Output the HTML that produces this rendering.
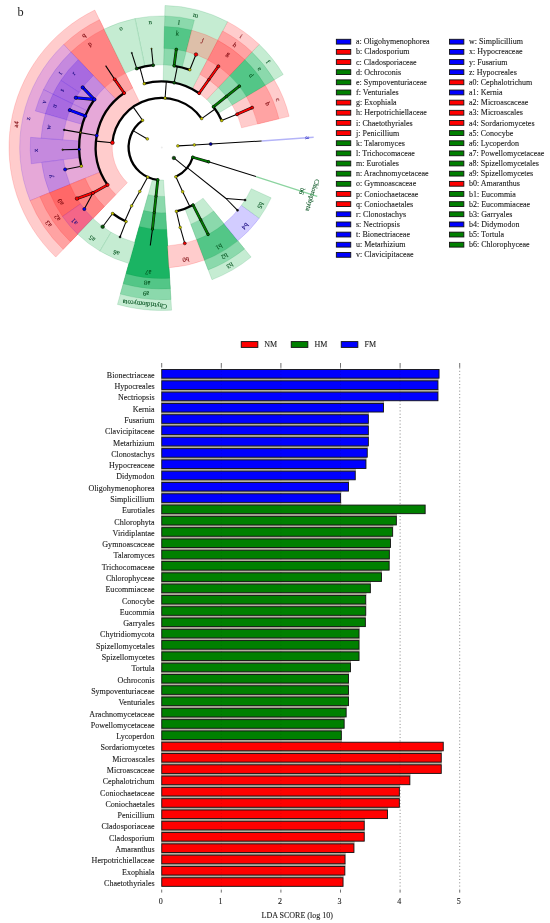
<!DOCTYPE html>
<html lang="en">
<head>
<meta charset="utf-8">
<title>LEfSe cladogram and LDA scores</title>
<style>
html,body{margin:0;padding:0;background:#fff;}
body{width:550px;height:923px;overflow:hidden;}
svg{display:block;}
svg text{font-family:'Liberation Serif','Times New Roman',serif;}
</style>
</head>
<body>
<svg width="550" height="923" viewBox="0 0 550 923" fill="#1a1a1a">
<rect x="0" y="0" width="550" height="923" fill="#ffffff"/>
<text x="17.6" y="15.8" font-size="12.3">b</text>
<g id="cladogram">
<path d="M152.62 178.88L117.45 304.45A163.3 163.3 0 0 0 171.61 310.19L163.54 180.04A32.9 32.9 0 0 1 152.62 178.88Z" fill="rgb(197,236,210)" fill-opacity="1" stroke="rgb(0,140,60)" stroke-opacity="0.28" stroke-width="0.5"/>
<path d="M139.93 102.87L94.77 10.08A152.5 152.5 0 0 0 55.76 257.08L127.32 182.72A49.3 49.3 0 0 1 139.93 102.87Z" fill="rgb(255,204,204)" fill-opacity="1" stroke="rgb(255,0,0)" stroke-opacity="0.28" stroke-width="0.5"/>
<path d="M148.2 194.67L120.36 294.05A152.5 152.5 0 0 0 170.94 299.41L164.55 196.41A49.3 49.3 0 0 1 148.2 194.67Z" fill="rgb(139,217,172)" fill-opacity="1" stroke="rgb(0,140,60)" stroke-opacity="0.28" stroke-width="0.5"/>
<path d="M132.71 88.03L99.45 19.7A141.8 141.8 0 0 0 63.71 44.51L116.12 99.55A65.8 65.8 0 0 1 132.71 88.03Z" fill="rgb(255,163,163)" fill-opacity="1" stroke="rgb(255,0,0)" stroke-opacity="0.28" stroke-width="0.5"/>
<path d="M116.12 99.55L63.71 44.51A141.8 141.8 0 0 0 30.16 200.66L100.56 172.01A65.8 65.8 0 0 1 116.12 99.55Z" fill="rgb(230,168,216)" fill-opacity="1" stroke="rgb(40,0,230)" stroke-opacity="0.28" stroke-width="0.5"/>
<path d="M100.56 172.01L30.16 200.66A141.8 141.8 0 0 0 63.18 249.37L115.87 194.61A65.8 65.8 0 0 1 100.56 172.01Z" fill="rgb(255,163,163)" fill-opacity="1" stroke="rgb(255,0,0)" stroke-opacity="0.28" stroke-width="0.5"/>
<path d="M143.75 210.56L123.25 283.74A141.8 141.8 0 0 0 170.28 288.73L165.57 212.87A65.8 65.8 0 0 1 143.75 210.56Z" fill="rgb(83,198,135)" fill-opacity="1" stroke="rgb(0,140,60)" stroke-opacity="0.28" stroke-width="0.5"/>
<path d="M184.92 208.69L211.97 279.71A141.8 141.8 0 0 0 251.12 257.09L203.09 198.19A65.8 65.8 0 0 1 184.92 208.69Z" fill="rgb(197,236,210)" fill-opacity="1" stroke="rgb(0,140,60)" stroke-opacity="0.28" stroke-width="0.5"/>
<path d="M217.99 113.46L283.24 74.49A141.8 141.8 0 0 0 259.11 44.34L206.79 99.47A65.8 65.8 0 0 1 217.99 113.46Z" fill="rgb(197,236,210)" fill-opacity="1" stroke="rgb(0,140,60)" stroke-opacity="0.28" stroke-width="0.5"/>
<path d="M206.79 99.47L259.11 44.34A141.8 141.8 0 0 0 227.52 21.71L192.14 88.97A65.8 65.8 0 0 1 206.79 99.47Z" fill="rgb(255,204,204)" fill-opacity="1" stroke="rgb(255,0,0)" stroke-opacity="0.28" stroke-width="0.5"/>
<path d="M192.14 88.97L227.52 21.71A141.8 141.8 0 0 0 164.96 5.44L163.11 81.42A65.8 65.8 0 0 1 192.14 88.97Z" fill="rgb(197,236,210)" fill-opacity="1" stroke="rgb(0,140,60)" stroke-opacity="0.28" stroke-width="0.5"/>
<path d="M125.44 73.11L104.04 29.14A131.3 131.3 0 0 0 70.95 52.12L104.68 87.53A82.4 82.4 0 0 1 125.44 73.11Z" fill="rgb(255,131,131)" fill-opacity="1" stroke="rgb(255,0,0)" stroke-opacity="0.28" stroke-width="0.5"/>
<path d="M104.68 87.53L70.95 52.12A131.3 131.3 0 0 0 43.49 89.64L87.44 111.08A82.4 82.4 0 0 1 104.68 87.53Z" fill="rgb(197,137,222)" fill-opacity="1" stroke="rgb(40,0,230)" stroke-opacity="0.28" stroke-width="0.5"/>
<path d="M87.44 111.08L43.49 89.64A131.3 131.3 0 0 0 35.32 110.9L82.31 124.42A82.4 82.4 0 0 1 87.44 111.08Z" fill="rgb(197,137,222)" fill-opacity="1" stroke="rgb(40,0,230)" stroke-opacity="0.28" stroke-width="0.5"/>
<path d="M79.33 141.02L30.57 137.36A131.3 131.3 0 0 0 31.25 163.77L79.76 157.6A82.4 82.4 0 0 1 79.33 141.02Z" fill="rgb(197,137,222)" fill-opacity="1" stroke="rgb(40,0,230)" stroke-opacity="0.28" stroke-width="0.5"/>
<path d="M85.18 178.27L39.89 196.7A131.3 131.3 0 0 0 70.46 241.81L104.36 206.57A82.4 82.4 0 0 1 85.18 178.27Z" fill="rgb(255,131,131)" fill-opacity="1" stroke="rgb(255,0,0)" stroke-opacity="0.28" stroke-width="0.5"/>
<path d="M139.27 226.55L126.08 273.63A131.3 131.3 0 0 0 169.63 278.25L166.6 229.44A82.4 82.4 0 0 1 139.27 226.55Z" fill="rgb(26,180,99)" fill-opacity="1" stroke="rgb(0,140,60)" stroke-opacity="0.28" stroke-width="0.5"/>
<path d="M190.83 224.2L208.23 269.9A131.3 131.3 0 0 0 244.49 248.95L213.58 211.06A82.4 82.4 0 0 1 190.83 224.2Z" fill="rgb(139,217,172)" fill-opacity="1" stroke="rgb(0,140,60)" stroke-opacity="0.28" stroke-width="0.5"/>
<path d="M241.59 127.82L289.12 116.33A131.3 131.3 0 0 0 274.22 79.87L232.24 104.95A82.4 82.4 0 0 1 241.59 127.82Z" fill="rgb(255,204,204)" fill-opacity="1" stroke="rgb(255,0,0)" stroke-opacity="0.28" stroke-width="0.5"/>
<path d="M232.24 104.95L274.22 79.87A131.3 131.3 0 0 0 251.88 51.96L218.22 87.43A82.4 82.4 0 0 1 232.24 104.95Z" fill="rgb(139,217,172)" fill-opacity="1" stroke="rgb(0,140,60)" stroke-opacity="0.28" stroke-width="0.5"/>
<path d="M218.22 87.43L251.88 51.96A131.3 131.3 0 0 0 222.64 31L199.87 74.28A82.4 82.4 0 0 1 218.22 87.43Z" fill="rgb(255,163,163)" fill-opacity="1" stroke="rgb(255,0,0)" stroke-opacity="0.28" stroke-width="0.5"/>
<path d="M182.13 67.42L194.37 20.08A131.3 131.3 0 0 0 164.71 15.94L163.51 64.82A82.4 82.4 0 0 1 182.13 67.42Z" fill="rgb(139,217,172)" fill-opacity="1" stroke="rgb(0,140,60)" stroke-opacity="0.28" stroke-width="0.5"/>
<path d="M163.51 64.82L164.71 15.94A131.3 131.3 0 0 0 134.99 18.6L144.86 66.5A82.4 82.4 0 0 1 163.51 64.82Z" fill="rgb(197,236,210)" fill-opacity="1" stroke="rgb(0,140,60)" stroke-opacity="0.28" stroke-width="0.5"/>
<path d="M144.86 66.5L134.99 18.6A131.3 131.3 0 0 0 104.04 29.14L125.44 73.11A82.4 82.4 0 0 1 144.86 66.5Z" fill="rgb(197,236,210)" fill-opacity="1" stroke="rgb(0,140,60)" stroke-opacity="0.28" stroke-width="0.5"/>
<path d="M93.3 75.58L78.19 59.72A120.8 120.8 0 0 0 60.88 80.35L79.12 92.47A98.9 98.9 0 0 1 93.3 75.58Z" fill="rgb(168,106,224)" fill-opacity="1" stroke="rgb(40,0,230)" stroke-opacity="0.28" stroke-width="0.5"/>
<path d="M79.12 92.47L60.88 80.35A120.8 120.8 0 0 0 52.93 94.24L72.61 103.85A98.9 98.9 0 0 1 79.12 92.47Z" fill="rgb(168,106,224)" fill-opacity="1" stroke="rgb(40,0,230)" stroke-opacity="0.28" stroke-width="0.5"/>
<path d="M72.61 103.85L52.93 94.24A120.8 120.8 0 0 0 45.41 113.8L66.46 119.86A98.9 98.9 0 0 1 72.61 103.85Z" fill="rgb(168,106,224)" fill-opacity="1" stroke="rgb(40,0,230)" stroke-opacity="0.28" stroke-width="0.5"/>
<path d="M66.46 119.86L45.41 113.8A120.8 120.8 0 0 0 41.04 138.14L62.88 139.78A98.9 98.9 0 0 1 66.46 119.86Z" fill="rgb(197,137,222)" fill-opacity="1" stroke="rgb(40,0,230)" stroke-opacity="0.28" stroke-width="0.5"/>
<path d="M63.39 159.68L41.67 162.44A120.8 120.8 0 0 0 49.62 192.75L69.9 184.49A98.9 98.9 0 0 1 63.39 159.68Z" fill="rgb(197,137,222)" fill-opacity="1" stroke="rgb(40,0,230)" stroke-opacity="0.28" stroke-width="0.5"/>
<path d="M69.9 184.49L49.62 192.75A120.8 120.8 0 0 0 62.55 216.49L80.49 203.93A98.9 98.9 0 0 1 69.9 184.49Z" fill="rgb(255,104,104)" fill-opacity="1" stroke="rgb(255,0,0)" stroke-opacity="0.28" stroke-width="0.5"/>
<path d="M80.49 203.93L62.55 216.49A120.8 120.8 0 0 0 77.74 234.24L92.92 218.46A98.9 98.9 0 0 1 80.49 203.93Z" fill="rgb(244,102,136)" fill-opacity="1" stroke="rgb(40,0,230)" stroke-opacity="0.28" stroke-width="0.5"/>
<path d="M92.92 218.46L77.74 234.24A120.8 120.8 0 0 0 99.92 251.12L111.08 232.28A98.9 98.9 0 0 1 92.92 218.46Z" fill="rgb(197,236,210)" fill-opacity="1" stroke="rgb(0,140,60)" stroke-opacity="0.28" stroke-width="0.5"/>
<path d="M111.08 232.28L99.92 251.12A120.8 120.8 0 0 0 128.91 263.52L134.82 242.43A98.9 98.9 0 0 1 111.08 232.28Z" fill="rgb(197,236,210)" fill-opacity="1" stroke="rgb(0,140,60)" stroke-opacity="0.28" stroke-width="0.5"/>
<path d="M167.62 245.91L168.98 267.77A120.8 120.8 0 0 0 204.5 260.09L196.7 239.62A98.9 98.9 0 0 1 167.62 245.91Z" fill="rgb(255,204,204)" fill-opacity="1" stroke="rgb(255,0,0)" stroke-opacity="0.28" stroke-width="0.5"/>
<path d="M196.7 239.62L204.5 260.09A120.8 120.8 0 0 0 237.85 240.81L224.01 223.84A98.9 98.9 0 0 1 196.7 239.62Z" fill="rgb(83,198,135)" fill-opacity="1" stroke="rgb(0,140,60)" stroke-opacity="0.28" stroke-width="0.5"/>
<path d="M224.01 223.84L237.85 240.81A120.8 120.8 0 0 0 259.23 218.2L241.51 205.33A98.9 98.9 0 0 1 224.01 223.84Z" fill="rgb(210,204,255)" fill-opacity="1" stroke="rgb(40,0,230)" stroke-opacity="0.28" stroke-width="0.5"/>
<path d="M241.51 205.33L259.23 218.2A120.8 120.8 0 0 0 271.16 197.87L251.28 188.68A98.9 98.9 0 0 1 241.51 205.33Z" fill="rgb(197,236,210)" fill-opacity="1" stroke="rgb(0,140,60)" stroke-opacity="0.28" stroke-width="0.5"/>
<path d="M257.63 123.94L278.91 118.79A120.8 120.8 0 0 0 265.21 85.25L246.41 96.48A98.9 98.9 0 0 1 257.63 123.94Z" fill="rgb(255,163,163)" fill-opacity="1" stroke="rgb(255,0,0)" stroke-opacity="0.28" stroke-width="0.5"/>
<path d="M246.41 96.48L265.21 85.25A120.8 120.8 0 0 0 244.65 59.57L229.58 75.46A98.9 98.9 0 0 1 246.41 96.48Z" fill="rgb(83,198,135)" fill-opacity="1" stroke="rgb(0,140,60)" stroke-opacity="0.28" stroke-width="0.5"/>
<path d="M229.58 75.46L244.65 59.57A120.8 120.8 0 0 0 217.75 40.29L207.55 59.67A98.9 98.9 0 0 1 229.58 75.46Z" fill="rgb(255,131,131)" fill-opacity="1" stroke="rgb(255,0,0)" stroke-opacity="0.28" stroke-width="0.5"/>
<path d="M186.26 51.45L191.75 30.25A120.8 120.8 0 0 0 164.45 26.44L163.92 48.33A98.9 98.9 0 0 1 186.26 51.45Z" fill="rgb(83,198,135)" fill-opacity="1" stroke="rgb(0,140,60)" stroke-opacity="0.28" stroke-width="0.5"/>
<path d="M207.55 59.67L217.75 40.29A120.8 120.8 0 0 0 191.75 30.25L186.26 51.45A98.9 98.9 0 0 1 207.55 59.67Z" fill="rgb(221,191,169)" fill-opacity="1" stroke="rgb(255,0,0)" stroke-opacity="0.28" stroke-width="0.5"/>
<line x1="261.61" y1="140.99" x2="313.67" y2="137.23" stroke="rgb(180,180,248)" stroke-width="1.3" stroke-linecap="butt"/>
<line x1="255.93" y1="176.61" x2="317.24" y2="196.31" stroke="rgb(140,212,160)" stroke-width="1.3" stroke-linecap="butt"/>
<line x1="147.34" y1="138.93" x2="133.09" y2="130.6" stroke="#000" stroke-width="1.05" stroke-linecap="butt"/>
<line x1="142.54" y1="120.32" x2="133.08" y2="106.91" stroke="#000" stroke-width="1.05" stroke-linecap="butt"/>
<line x1="201.64" y1="118.57" x2="215.07" y2="108.99" stroke="#000" stroke-width="1.05" stroke-linecap="butt"/>
<line x1="221.66" y1="120.54" x2="237.07" y2="114.34" stroke="#000" stroke-width="1.05" stroke-linecap="butt"/>
<line x1="165.11" y1="98.03" x2="166.32" y2="81.58" stroke="#000" stroke-width="1.05" stroke-linecap="butt"/>
<line x1="144.25" y1="83.7" x2="139.9" y2="67.68" stroke="#000" stroke-width="1.05" stroke-linecap="butt"/>
<line x1="136.72" y1="68.61" x2="131.76" y2="52.88" stroke="#000" stroke-width="1.05" stroke-linecap="butt"/>
<line x1="153.17" y1="65.22" x2="151.51" y2="48.81" stroke="#000" stroke-width="1.05" stroke-linecap="butt"/>
<line x1="174.17" y1="82.63" x2="177.36" y2="66.34" stroke="#000" stroke-width="1.05" stroke-linecap="butt"/>
<line x1="189.82" y1="69.82" x2="195.97" y2="54.5" stroke="#000" stroke-width="1.05" stroke-linecap="butt"/>
<line x1="112.41" y1="142.65" x2="95.98" y2="141.12" stroke="#000" stroke-width="1.05" stroke-linecap="butt"/>
<line x1="114.71" y1="79.37" x2="105.62" y2="65.6" stroke="#000" stroke-width="1.05" stroke-linecap="butt"/>
<line x1="96.74" y1="135.55" x2="64.13" y2="129.86" stroke="#000" stroke-width="1.05" stroke-linecap="butt"/>
<line x1="79.13" y1="149.36" x2="62.63" y2="149.79" stroke="#000" stroke-width="1.05" stroke-linecap="butt"/>
<line x1="81.31" y1="166.16" x2="65.13" y2="169.45" stroke="#000" stroke-width="1.05" stroke-linecap="butt"/>
<line x1="92.95" y1="192.92" x2="84.32" y2="209.04" stroke="#000" stroke-width="1.05" stroke-linecap="butt"/>
<line x1="147.7" y1="177.07" x2="139.81" y2="191.47" stroke="#000" stroke-width="1.05" stroke-linecap="butt"/>
<line x1="139.81" y1="191.47" x2="131.63" y2="205.83" stroke="#000" stroke-width="1.05" stroke-linecap="butt"/>
<line x1="131.63" y1="205.83" x2="124.86" y2="221.01" stroke="#000" stroke-width="1.05" stroke-linecap="butt"/>
<line x1="112.6" y1="213.52" x2="102.67" y2="226.7" stroke="#000" stroke-width="1.05" stroke-linecap="butt"/>
<line x1="126.03" y1="221.57" x2="120.02" y2="236.98" stroke="#000" stroke-width="1.05" stroke-linecap="butt"/>
<line x1="152.46" y1="229.1" x2="150.3" y2="245.46" stroke="#000" stroke-width="1.05" stroke-linecap="butt"/>
<line x1="173.88" y1="157.96" x2="186.7" y2="168.35" stroke="#000" stroke-width="1.05" stroke-linecap="butt"/>
<line x1="187.25" y1="167.68" x2="225.99" y2="198.5" stroke="#000" stroke-width="1.05" stroke-linecap="butt"/>
<line x1="225.99" y1="198.5" x2="237.59" y2="210.37" stroke="#000" stroke-width="1.05" stroke-linecap="butt"/>
<line x1="225.99" y1="198.5" x2="245.1" y2="200.05" stroke="#000" stroke-width="1.05" stroke-linecap="butt"/>
<line x1="175.87" y1="176.8" x2="182.65" y2="191.73" stroke="#000" stroke-width="1.05" stroke-linecap="butt"/>
<line x1="182.65" y1="191.73" x2="189.83" y2="206.59" stroke="#000" stroke-width="1.05" stroke-linecap="butt"/>
<line x1="176.41" y1="211.29" x2="180.18" y2="227.46" stroke="#000" stroke-width="1.05" stroke-linecap="butt"/>
<line x1="180.18" y1="227.46" x2="184.76" y2="243.33" stroke="#000" stroke-width="1.05" stroke-linecap="butt"/>
<line x1="208.6" y1="161.78" x2="255.93" y2="176.61" stroke="#000" stroke-width="1.05" stroke-linecap="butt"/>
<line x1="177.85" y1="145.88" x2="194.32" y2="144.96" stroke="#000" stroke-width="1.05" stroke-linecap="butt"/>
<line x1="194.32" y1="144.96" x2="210.7" y2="144.02" stroke="#000" stroke-width="1.05" stroke-linecap="butt"/>
<line x1="210.7" y1="144.02" x2="261.61" y2="140.99" stroke="#000" stroke-width="1.05" stroke-linecap="butt"/>
<path d="M142.54 120.32A32.9 32.9 0 0 0 157.78 179.89" fill="none" stroke="#000" stroke-width="2.3" stroke-linecap="round"/>
<path d="M201.64 118.57A49.3 49.3 0 0 0 112.41 142.65" fill="none" stroke="#000" stroke-width="2.3" stroke-linecap="round"/>
<path d="M221.66 120.54A65.8 65.8 0 0 0 213.42 106.78" fill="none" stroke="#000" stroke-width="2.3" stroke-linecap="round"/>
<path d="M199.15 93.23A65.8 65.8 0 0 0 144.25 83.7" fill="none" stroke="#000" stroke-width="2.3" stroke-linecap="round"/>
<path d="M153.17 65.22A82.4 82.4 0 0 0 136.72 68.61" fill="none" stroke="#000" stroke-width="2.3" stroke-linecap="round"/>
<path d="M189.82 69.82A82.4 82.4 0 0 0 174.11 65.77" fill="none" stroke="#000" stroke-width="2.3" stroke-linecap="round"/>
<path d="M124.14 93.04A65.8 65.8 0 0 0 107.53 184.85" fill="none" stroke="#000" stroke-width="2.3" stroke-linecap="round"/>
<path d="M94.33 99.47A82.4 82.4 0 0 0 81.31 166.16" fill="none" stroke="#000" stroke-width="2.3" stroke-linecap="round"/>
<path d="M112.6 213.52A82.4 82.4 0 0 0 126.03 221.57" fill="none" stroke="#000" stroke-width="2.3" stroke-linecap="round"/>
<path d="M175.87 176.8A32.9 32.9 0 0 0 192.83 157.26" fill="none" stroke="#000" stroke-width="2.3" stroke-linecap="round"/>
<path d="M176.41 211.29A65.8 65.8 0 0 0 193 204.97" fill="none" stroke="#000" stroke-width="2.3" stroke-linecap="round"/>
<line x1="213.42" y1="106.78" x2="239.33" y2="86.18" stroke="#111" stroke-width="2.8" stroke-linecap="round"/>
<line x1="213.42" y1="106.78" x2="239.33" y2="86.18" stroke="#008000" stroke-width="1.7" stroke-linecap="round"/>
<line x1="237.07" y1="114.34" x2="252.13" y2="107.61" stroke="#111" stroke-width="2.8" stroke-linecap="round"/>
<line x1="237.07" y1="114.34" x2="252.13" y2="107.61" stroke="#ff0000" stroke-width="1.7" stroke-linecap="round"/>
<line x1="174.11" y1="65.77" x2="176.29" y2="49.41" stroke="#111" stroke-width="2.8" stroke-linecap="round"/>
<line x1="174.11" y1="65.77" x2="176.29" y2="49.41" stroke="#008000" stroke-width="1.7" stroke-linecap="round"/>
<line x1="199.15" y1="93.23" x2="218.37" y2="66.28" stroke="#111" stroke-width="2.8" stroke-linecap="round"/>
<line x1="199.15" y1="93.23" x2="218.37" y2="66.28" stroke="#ff0000" stroke-width="1.7" stroke-linecap="round"/>
<line x1="124.14" y1="93.04" x2="114.71" y2="79.37" stroke="#111" stroke-width="2.8" stroke-linecap="round"/>
<line x1="124.14" y1="93.04" x2="114.71" y2="79.37" stroke="#ff0000" stroke-width="1.7" stroke-linecap="round"/>
<line x1="94.33" y1="99.47" x2="82.72" y2="87.41" stroke="#111" stroke-width="3" stroke-linecap="round"/>
<line x1="94.33" y1="99.47" x2="82.72" y2="87.41" stroke="#0000ff" stroke-width="2.2" stroke-linecap="round"/>
<line x1="94.33" y1="99.47" x2="75.85" y2="97.75" stroke="#111" stroke-width="3" stroke-linecap="round"/>
<line x1="94.33" y1="99.47" x2="75.85" y2="97.75" stroke="#0000ff" stroke-width="2.2" stroke-linecap="round"/>
<line x1="85.26" y1="115.93" x2="69.8" y2="110.15" stroke="#111" stroke-width="3" stroke-linecap="round"/>
<line x1="85.26" y1="115.93" x2="69.8" y2="110.15" stroke="#0000ff" stroke-width="2.2" stroke-linecap="round"/>
<line x1="107.53" y1="184.85" x2="92.95" y2="192.92" stroke="#111" stroke-width="2.8" stroke-linecap="round"/>
<line x1="107.53" y1="184.85" x2="92.95" y2="192.92" stroke="#ff0000" stroke-width="1.7" stroke-linecap="round"/>
<line x1="92.95" y1="192.92" x2="76.99" y2="198.58" stroke="#111" stroke-width="2.8" stroke-linecap="round"/>
<line x1="92.95" y1="192.92" x2="76.99" y2="198.58" stroke="#ff0000" stroke-width="1.7" stroke-linecap="round"/>
<line x1="157.78" y1="179.89" x2="152.46" y2="229.1" stroke="#111" stroke-width="2.8" stroke-linecap="round"/>
<line x1="157.78" y1="179.89" x2="152.46" y2="229.1" stroke="#008000" stroke-width="1.7" stroke-linecap="round"/>
<line x1="193" y1="204.97" x2="208.08" y2="234.44" stroke="#111" stroke-width="2.8" stroke-linecap="round"/>
<line x1="193" y1="204.97" x2="208.08" y2="234.44" stroke="#008000" stroke-width="1.7" stroke-linecap="round"/>
<line x1="192.83" y1="157.26" x2="208.6" y2="161.78" stroke="#111" stroke-width="2.8" stroke-linecap="round"/>
<line x1="192.83" y1="157.26" x2="208.6" y2="161.78" stroke="#008000" stroke-width="1.7" stroke-linecap="round"/>
<circle cx="161.8" cy="147.4" r="1" fill="#ececec"/>
<circle cx="147.34" cy="138.93" r="1.4" fill="#c6c600" stroke="#000" stroke-width="0.35"/>
<circle cx="177.85" cy="145.88" r="1.4" fill="#c6c600" stroke="#000" stroke-width="0.35"/>
<circle cx="173.88" cy="157.96" r="1.75" fill="#0b4f0b" stroke="#000" stroke-width="0.5"/>
<circle cx="142.54" cy="120.32" r="1.4" fill="#c6c600" stroke="#000" stroke-width="0.35"/>
<circle cx="147.7" cy="177.07" r="1.4" fill="#c6c600" stroke="#000" stroke-width="0.35"/>
<circle cx="157.78" cy="179.89" r="1.4" fill="#008000" stroke="#000" stroke-width="0.5"/>
<circle cx="175.87" cy="176.8" r="1.4" fill="#c6c600" stroke="#000" stroke-width="0.35"/>
<circle cx="194.32" cy="144.96" r="1.4" fill="#c6c600" stroke="#000" stroke-width="0.35"/>
<circle cx="192.83" cy="157.26" r="1.4" fill="#008000" stroke="#000" stroke-width="0.5"/>
<circle cx="201.64" cy="118.57" r="1.4" fill="#c6c600" stroke="#000" stroke-width="0.35"/>
<circle cx="165.11" cy="98.03" r="1.4" fill="#c6c600" stroke="#000" stroke-width="0.35"/>
<circle cx="112.41" cy="142.65" r="1.9" fill="#ff0000" stroke="#000" stroke-width="0.5"/>
<circle cx="139.81" cy="191.47" r="1.4" fill="#c6c600" stroke="#000" stroke-width="0.35"/>
<circle cx="156" cy="196.19" r="1.2" fill="#008000" stroke="#000" stroke-width="0.5"/>
<circle cx="182.65" cy="191.73" r="1.4" fill="#c6c600" stroke="#000" stroke-width="0.35"/>
<circle cx="210.7" cy="144.02" r="1.5" fill="#0000a0" stroke="#000" stroke-width="0.5"/>
<circle cx="208.6" cy="161.78" r="1.3" fill="#008000" stroke="#000" stroke-width="0.5"/>
<circle cx="213.42" cy="106.78" r="1.4" fill="#008000" stroke="#000" stroke-width="0.5"/>
<circle cx="221.66" cy="120.54" r="1.4" fill="#c6c600" stroke="#000" stroke-width="0.35"/>
<circle cx="144.25" cy="83.7" r="1.4" fill="#c6c600" stroke="#000" stroke-width="0.35"/>
<circle cx="174.17" cy="82.63" r="1.5" fill="#0a5a0a" stroke="#000" stroke-width="0.5"/>
<circle cx="199.15" cy="93.23" r="1.5" fill="#ff0000" stroke="#000" stroke-width="0.5"/>
<circle cx="124.14" cy="93.04" r="1.6" fill="#ff0000" stroke="#000" stroke-width="0.5"/>
<circle cx="96.74" cy="135.55" r="1.6" fill="#0000ff" stroke="#000" stroke-width="0.5"/>
<circle cx="107.53" cy="184.85" r="1.7" fill="#ff0000" stroke="#000" stroke-width="0.5"/>
<circle cx="131.63" cy="205.83" r="1.4" fill="#c6c600" stroke="#000" stroke-width="0.35"/>
<circle cx="154.17" cy="212.59" r="1.2" fill="#008000" stroke="#000" stroke-width="0.5"/>
<circle cx="176.41" cy="211.29" r="1.4" fill="#c6c600" stroke="#000" stroke-width="0.35"/>
<circle cx="193" cy="204.97" r="1.3" fill="#008000" stroke="#000" stroke-width="0.5"/>
<circle cx="226.43" cy="96.47" r="1.3" fill="#008000" stroke="#000" stroke-width="0.5"/>
<circle cx="237.07" cy="114.34" r="1.5" fill="#ff0000" stroke="#000" stroke-width="0.5"/>
<circle cx="136.72" cy="68.61" r="1.5" fill="#0a5a0a" stroke="#000" stroke-width="0.5"/>
<circle cx="153.17" cy="65.22" r="1.5" fill="#0a5a0a" stroke="#000" stroke-width="0.5"/>
<circle cx="174.11" cy="65.77" r="1.4" fill="#008000" stroke="#000" stroke-width="0.5"/>
<circle cx="189.82" cy="69.82" r="1.4" fill="#c6c600" stroke="#000" stroke-width="0.35"/>
<circle cx="208.76" cy="79.7" r="1.3" fill="#ff0000" stroke="#000" stroke-width="0.5"/>
<circle cx="114.71" cy="79.37" r="1.5" fill="#ff0000" stroke="#000" stroke-width="0.5"/>
<circle cx="94.33" cy="99.47" r="1.8" fill="#0000ff" stroke="#000" stroke-width="0.5"/>
<circle cx="85.26" cy="115.93" r="1.6" fill="#0000ff" stroke="#000" stroke-width="0.5"/>
<circle cx="80.43" cy="132.47" r="1" fill="#909000" stroke="#000" stroke-width="0.5"/>
<circle cx="79.13" cy="149.36" r="1.3" fill="#0000ff" stroke="#000" stroke-width="0.5"/>
<circle cx="81.31" cy="166.16" r="1.4" fill="#c6c600" stroke="#000" stroke-width="0.35"/>
<circle cx="92.95" cy="192.92" r="1.6" fill="#ff0000" stroke="#000" stroke-width="0.5"/>
<circle cx="112.6" cy="213.52" r="1.4" fill="#c6c600" stroke="#000" stroke-width="0.35"/>
<circle cx="126.03" cy="221.57" r="1.4" fill="#c6c600" stroke="#000" stroke-width="0.35"/>
<circle cx="152.46" cy="229.1" r="1.2" fill="#008000" stroke="#000" stroke-width="0.5"/>
<circle cx="180.18" cy="227.46" r="1.4" fill="#c6c600" stroke="#000" stroke-width="0.35"/>
<circle cx="200.69" cy="219.68" r="1.2" fill="#008000" stroke="#000" stroke-width="0.5"/>
<circle cx="239.33" cy="86.18" r="1.4" fill="#008000" stroke="#000" stroke-width="0.5"/>
<circle cx="252.13" cy="107.61" r="1.5" fill="#ff0000" stroke="#000" stroke-width="0.5"/>
<circle cx="131.76" cy="52.88" r="0.6" fill="#111" stroke="#000" stroke-width="0.5"/>
<circle cx="151.51" cy="48.81" r="0.7" fill="#707000" stroke="#000" stroke-width="0.5"/>
<circle cx="176.29" cy="49.41" r="1.4" fill="#008000" stroke="#000" stroke-width="0.5"/>
<circle cx="195.97" cy="54.5" r="1.8" fill="#ff0000" stroke="#000" stroke-width="0.5"/>
<circle cx="218.37" cy="66.28" r="1.5" fill="#ff0000" stroke="#000" stroke-width="0.5"/>
<circle cx="82.72" cy="87.41" r="1.7" fill="#0000ff" stroke="#000" stroke-width="0.5"/>
<circle cx="75.85" cy="97.75" r="1.7" fill="#0000ff" stroke="#000" stroke-width="0.5"/>
<circle cx="69.8" cy="110.15" r="1.6" fill="#0000ff" stroke="#000" stroke-width="0.5"/>
<circle cx="64.13" cy="129.86" r="0.9" fill="#111" stroke="#000" stroke-width="0.5"/>
<circle cx="62.63" cy="149.79" r="0.8" fill="#606000" stroke="#000" stroke-width="0.5"/>
<circle cx="65.13" cy="169.45" r="1.6" fill="#0000ff" stroke="#000" stroke-width="0.5"/>
<circle cx="76.99" cy="198.58" r="1.8" fill="#ff0000" stroke="#000" stroke-width="0.5"/>
<circle cx="84.32" cy="209.04" r="1.6" fill="#0000ff" stroke="#000" stroke-width="0.5"/>
<circle cx="102.67" cy="226.7" r="1.8" fill="#0a5a0a" stroke="#000" stroke-width="0.5"/>
<circle cx="120.02" cy="236.98" r="1" fill="#111" stroke="#000" stroke-width="0.5"/>
<circle cx="184.76" cy="243.33" r="1.5" fill="#ff0000" stroke="#000" stroke-width="0.5"/>
<circle cx="208.08" cy="234.44" r="1.3" fill="#008000" stroke="#000" stroke-width="0.5"/>
<circle cx="237.59" cy="210.37" r="1" fill="#111" stroke="#000" stroke-width="0.5"/>
<circle cx="245.1" cy="200.05" r="1" fill="#111" stroke="#000" stroke-width="0.5"/>
<text x="0" y="0" transform="translate(144.83 304.52) rotate(-173.95)" text-anchor="middle" dominant-baseline="central" font-size="6.6" fill="#00501c" stroke="#00501c" stroke-width="0.1">Chytridiomycota</text>
<text x="0" y="0" transform="translate(15.71 124.17) rotate(-81.03)" text-anchor="middle" dominant-baseline="central" font-size="6.6" fill="#7a0008" stroke="#7a0008" stroke-width="0.1">a4</text>
<text x="0" y="0" transform="translate(145.94 293.98) rotate(-173.95)" text-anchor="middle" dominant-baseline="central" font-size="6.6" fill="#00501c" stroke="#00501c" stroke-width="0.1">a9</text>
<text x="0" y="0" transform="translate(83.42 34.75) rotate(-34.78)" text-anchor="middle" dominant-baseline="central" font-size="6.6" fill="#7a0008" stroke="#7a0008" stroke-width="0.1">q</text>
<text x="0" y="0" transform="translate(27.65 118.44) rotate(-77.88)" text-anchor="middle" dominant-baseline="central" font-size="6.6" fill="#1a0a80" stroke="#1a0a80" stroke-width="0.1">z</text>
<text x="0" y="0" transform="translate(48.17 224) rotate(-124.12)" text-anchor="middle" dominant-baseline="central" font-size="6.6" fill="#7a0008" stroke="#7a0008" stroke-width="0.1">a3</text>
<text x="0" y="0" transform="translate(147.07 283.34) rotate(-173.95)" text-anchor="middle" dominant-baseline="central" font-size="6.6" fill="#00501c" stroke="#00501c" stroke-width="0.1">a8</text>
<text x="0" y="0" transform="translate(230 265.73) rotate(-210.03)" text-anchor="middle" dominant-baseline="central" font-size="6.6" fill="#00501c" stroke="#00501c" stroke-width="0.1">b3</text>
<text x="0" y="0" transform="translate(268.38 61.65) rotate(51.33)" text-anchor="middle" dominant-baseline="central" font-size="6.6" fill="#00501c" stroke="#00501c" stroke-width="0.1">f</text>
<text x="0" y="0" transform="translate(241.24 35.92) rotate(35.62)" text-anchor="middle" dominant-baseline="central" font-size="6.6" fill="#7a0008" stroke="#7a0008" stroke-width="0.1">i</text>
<text x="0" y="0" transform="translate(195.95 14.71) rotate(14.58)" text-anchor="middle" dominant-baseline="central" font-size="6.6" fill="#00501c" stroke="#00501c" stroke-width="0.1">m</text>
<text x="0" y="0" transform="translate(89.52 43.54) rotate(-34.78)" text-anchor="middle" dominant-baseline="central" font-size="6.6" fill="#7a0008" stroke="#7a0008" stroke-width="0.1">p</text>
<text x="0" y="0" transform="translate(59.66 72.67) rotate(-53.8)" text-anchor="middle" dominant-baseline="central" font-size="6.6" fill="#1a0a80" stroke="#1a0a80" stroke-width="0.1">t</text>
<text x="0" y="0" transform="translate(43.7 101.92) rotate(-68.97)" text-anchor="middle" dominant-baseline="central" font-size="6.6" fill="#1a0a80" stroke="#1a0a80" stroke-width="0.1">v</text>
<text x="0" y="0" transform="translate(35.34 150.45) rotate(-91.47)" text-anchor="middle" dominant-baseline="central" font-size="6.6" fill="#1a0a80" stroke="#1a0a80" stroke-width="0.1">x</text>
<text x="0" y="0" transform="translate(57.03 218) rotate(-124.12)" text-anchor="middle" dominant-baseline="central" font-size="6.6" fill="#7a0008" stroke="#7a0008" stroke-width="0.1">a2</text>
<text x="0" y="0" transform="translate(148.2 272.7) rotate(-173.95)" text-anchor="middle" dominant-baseline="central" font-size="6.6" fill="#00501c" stroke="#00501c" stroke-width="0.1">a7</text>
<text x="0" y="0" transform="translate(224.65 256.46) rotate(-210.03)" text-anchor="middle" dominant-baseline="central" font-size="6.6" fill="#00501c" stroke="#00501c" stroke-width="0.1">b2</text>
<text x="0" y="0" transform="translate(278.32 99.47) rotate(67.77)" text-anchor="middle" dominant-baseline="central" font-size="6.6" fill="#7a0008" stroke="#7a0008" stroke-width="0.1">c</text>
<text x="0" y="0" transform="translate(260.02 68.34) rotate(51.33)" text-anchor="middle" dominant-baseline="central" font-size="6.6" fill="#00501c" stroke="#00501c" stroke-width="0.1">e</text>
<text x="0" y="0" transform="translate(235.01 44.62) rotate(35.62)" text-anchor="middle" dominant-baseline="central" font-size="6.6" fill="#7a0008" stroke="#7a0008" stroke-width="0.1">h</text>
<text x="0" y="0" transform="translate(178.95 22.21) rotate(7.95)" text-anchor="middle" dominant-baseline="central" font-size="6.6" fill="#00501c" stroke="#00501c" stroke-width="0.1">l</text>
<text x="0" y="0" transform="translate(150.23 21.5) rotate(-5.12)" text-anchor="middle" dominant-baseline="central" font-size="6.6" fill="#00501c" stroke="#00501c" stroke-width="0.1">n</text>
<text x="0" y="0" transform="translate(120.83 27.73) rotate(-18.8)" text-anchor="middle" dominant-baseline="central" font-size="6.6" fill="#00501c" stroke="#00501c" stroke-width="0.1">o</text>
<text x="0" y="0" transform="translate(73.25 73.15) rotate(-50)" text-anchor="middle" dominant-baseline="central" font-size="6.6" fill="#1a0a80" stroke="#1a0a80" stroke-width="0.1">r</text>
<text x="0" y="0" transform="translate(61.53 89.95) rotate(-60.2)" text-anchor="middle" dominant-baseline="central" font-size="6.6" fill="#1a0a80" stroke="#1a0a80" stroke-width="0.1">s</text>
<text x="0" y="0" transform="translate(53.97 105.87) rotate(-68.97)" text-anchor="middle" dominant-baseline="central" font-size="6.6" fill="#1a0a80" stroke="#1a0a80" stroke-width="0.1">u</text>
<text x="0" y="0" transform="translate(48.11 126.85) rotate(-79.82)" text-anchor="middle" dominant-baseline="central" font-size="6.6" fill="#1a0a80" stroke="#1a0a80" stroke-width="0.1">w</text>
<text x="0" y="0" transform="translate(50.07 176.43) rotate(-104.7)" text-anchor="middle" dominant-baseline="central" font-size="6.6" fill="#1a0a80" stroke="#1a0a80" stroke-width="0.1">y</text>
<text x="0" y="0" transform="translate(60.33 202.3) rotate(-118.57)" text-anchor="middle" dominant-baseline="central" font-size="6.6" fill="#7a0008" stroke="#7a0008" stroke-width="0.1">a0</text>
<text x="0" y="0" transform="translate(73.97 222.09) rotate(-130.55)" text-anchor="middle" dominant-baseline="central" font-size="6.6" fill="#1a0a80" stroke="#1a0a80" stroke-width="0.1">a1</text>
<text x="0" y="0" transform="translate(91.73 238.87) rotate(-142.72)" text-anchor="middle" dominant-baseline="central" font-size="6.6" fill="#00501c" stroke="#00501c" stroke-width="0.1">a5</text>
<text x="0" y="0" transform="translate(116.21 253.12) rotate(-156.85)" text-anchor="middle" dominant-baseline="central" font-size="6.6" fill="#00501c" stroke="#00501c" stroke-width="0.1">a6</text>
<text x="0" y="0" transform="translate(185.84 259.8) rotate(-192.2)" text-anchor="middle" dominant-baseline="central" font-size="6.6" fill="#7a0008" stroke="#7a0008" stroke-width="0.1">b0</text>
<text x="0" y="0" transform="translate(219.14 246.94) rotate(-210.03)" text-anchor="middle" dominant-baseline="central" font-size="6.6" fill="#00501c" stroke="#00501c" stroke-width="0.1">b1</text>
<text x="0" y="0" transform="translate(245.2 226.35) rotate(-226.6)" text-anchor="middle" dominant-baseline="central" font-size="6.6" fill="#1a0a80" stroke="#1a0a80" stroke-width="0.1">b4</text>
<text x="0" y="0" transform="translate(260.86 205.5) rotate(-239.6)" text-anchor="middle" dominant-baseline="central" font-size="6.6" fill="#00501c" stroke="#00501c" stroke-width="0.1">b5</text>
<text x="0" y="0" transform="translate(268.14 103.63) rotate(67.77)" text-anchor="middle" dominant-baseline="central" font-size="6.6" fill="#7a0008" stroke="#7a0008" stroke-width="0.1">b</text>
<text x="0" y="0" transform="translate(251.44 75.21) rotate(51.33)" text-anchor="middle" dominant-baseline="central" font-size="6.6" fill="#00501c" stroke="#00501c" stroke-width="0.1">d</text>
<text x="0" y="0" transform="translate(228.6 53.56) rotate(35.62)" text-anchor="middle" dominant-baseline="central" font-size="6.6" fill="#7a0008" stroke="#7a0008" stroke-width="0.1">g</text>
<text x="0" y="0" transform="translate(177.43 33.11) rotate(7.95)" text-anchor="middle" dominant-baseline="central" font-size="6.6" fill="#00501c" stroke="#00501c" stroke-width="0.1">k</text>
<text x="0" y="0" transform="translate(203.02 39.74) rotate(21.12)" text-anchor="middle" dominant-baseline="central" font-size="6.6" fill="#7a0008" stroke="#7a0008" stroke-width="0.1">j</text>
<text x="0" y="0" transform="translate(308.19 137.71) rotate(86.3)" text-anchor="middle" dominant-baseline="central" font-size="7.4" fill="#3a3ac8" stroke="#3a3ac8" stroke-width="0.1">a</text>
<text x="0" y="0" transform="translate(302.35 191.34) rotate(107.4)" text-anchor="middle" dominant-baseline="central" font-size="6.6" fill="#00501c" stroke="#00501c" stroke-width="0.1">b6</text>
<text x="0" y="0" transform="translate(312.87 195.22) rotate(107.6)" text-anchor="middle" dominant-baseline="central" font-size="6.6" fill="#00501c" stroke="#00501c" stroke-width="0.1">Chlorophyta</text>
</g>
<g id="legend" stroke="#1a1a1a" stroke-width="0.1">
<rect x="336.35" y="39.3" width="14.4" height="4.8" fill="#0000ff" stroke="#111" stroke-width="0.9"/>
<text x="356" y="44.3" font-size="8">a: Oligohymenophorea</text>
<rect x="336.35" y="49.45" width="14.4" height="4.8" fill="#ff0000" stroke="#111" stroke-width="0.9"/>
<text x="356" y="54.45" font-size="8">b: Cladosporium</text>
<rect x="336.35" y="59.6" width="14.4" height="4.8" fill="#ff0000" stroke="#111" stroke-width="0.9"/>
<text x="356" y="64.6" font-size="8">c: Cladosporiaceae</text>
<rect x="336.35" y="69.75" width="14.4" height="4.8" fill="#008000" stroke="#111" stroke-width="0.9"/>
<text x="356" y="74.75" font-size="8">d: Ochroconis</text>
<rect x="336.35" y="79.9" width="14.4" height="4.8" fill="#008000" stroke="#111" stroke-width="0.9"/>
<text x="356" y="84.9" font-size="8">e: Sympoventuriaceae</text>
<rect x="336.35" y="90.05" width="14.4" height="4.8" fill="#008000" stroke="#111" stroke-width="0.9"/>
<text x="356" y="95.05" font-size="8">f: Venturiales</text>
<rect x="336.35" y="100.2" width="14.4" height="4.8" fill="#ff0000" stroke="#111" stroke-width="0.9"/>
<text x="356" y="105.2" font-size="8">g: Exophiala</text>
<rect x="336.35" y="110.35" width="14.4" height="4.8" fill="#ff0000" stroke="#111" stroke-width="0.9"/>
<text x="356" y="115.35" font-size="8">h: Herpotrichiellaceae</text>
<rect x="336.35" y="120.5" width="14.4" height="4.8" fill="#ff0000" stroke="#111" stroke-width="0.9"/>
<text x="356" y="125.5" font-size="8">i: Chaetothyriales</text>
<rect x="336.35" y="130.65" width="14.4" height="4.8" fill="#ff0000" stroke="#111" stroke-width="0.9"/>
<text x="356" y="135.65" font-size="8">j: Penicillium</text>
<rect x="336.35" y="140.8" width="14.4" height="4.8" fill="#008000" stroke="#111" stroke-width="0.9"/>
<text x="356" y="145.8" font-size="8">k: Talaromyces</text>
<rect x="336.35" y="150.95" width="14.4" height="4.8" fill="#008000" stroke="#111" stroke-width="0.9"/>
<text x="356" y="155.95" font-size="8">l: Trichocomaceae</text>
<rect x="336.35" y="161.1" width="14.4" height="4.8" fill="#008000" stroke="#111" stroke-width="0.9"/>
<text x="356" y="166.1" font-size="8">m: Eurotiales</text>
<rect x="336.35" y="171.25" width="14.4" height="4.8" fill="#008000" stroke="#111" stroke-width="0.9"/>
<text x="356" y="176.25" font-size="8">n: Arachnomycetaceae</text>
<rect x="336.35" y="181.4" width="14.4" height="4.8" fill="#008000" stroke="#111" stroke-width="0.9"/>
<text x="356" y="186.4" font-size="8">o: Gymnoascaceae</text>
<rect x="336.35" y="191.55" width="14.4" height="4.8" fill="#ff0000" stroke="#111" stroke-width="0.9"/>
<text x="356" y="196.55" font-size="8">p: Coniochaetaceae</text>
<rect x="336.35" y="201.7" width="14.4" height="4.8" fill="#ff0000" stroke="#111" stroke-width="0.9"/>
<text x="356" y="206.7" font-size="8">q: Coniochaetales</text>
<rect x="336.35" y="211.85" width="14.4" height="4.8" fill="#0000ff" stroke="#111" stroke-width="0.9"/>
<text x="356" y="216.85" font-size="8">r: Clonostachys</text>
<rect x="336.35" y="222" width="14.4" height="4.8" fill="#0000ff" stroke="#111" stroke-width="0.9"/>
<text x="356" y="227" font-size="8">s: Nectriopsis</text>
<rect x="336.35" y="232.15" width="14.4" height="4.8" fill="#0000ff" stroke="#111" stroke-width="0.9"/>
<text x="356" y="237.15" font-size="8">t: Bionectriaceae</text>
<rect x="336.35" y="242.3" width="14.4" height="4.8" fill="#0000ff" stroke="#111" stroke-width="0.9"/>
<text x="356" y="247.3" font-size="8">u: Metarhizium</text>
<rect x="336.35" y="252.45" width="14.4" height="4.8" fill="#0000ff" stroke="#111" stroke-width="0.9"/>
<text x="356" y="257.45" font-size="8">v: Clavicipitaceae</text>
<rect x="449.45" y="39.3" width="14.4" height="4.8" fill="#0000ff" stroke="#111" stroke-width="0.9"/>
<text x="469" y="44.3" font-size="8">w: Simplicillium</text>
<rect x="449.45" y="49.45" width="14.4" height="4.8" fill="#0000ff" stroke="#111" stroke-width="0.9"/>
<text x="469" y="54.45" font-size="8">x: Hypocreaceae</text>
<rect x="449.45" y="59.6" width="14.4" height="4.8" fill="#0000ff" stroke="#111" stroke-width="0.9"/>
<text x="469" y="64.6" font-size="8">y: Fusarium</text>
<rect x="449.45" y="69.75" width="14.4" height="4.8" fill="#0000ff" stroke="#111" stroke-width="0.9"/>
<text x="469" y="74.75" font-size="8">z: Hypocreales</text>
<rect x="449.45" y="79.9" width="14.4" height="4.8" fill="#ff0000" stroke="#111" stroke-width="0.9"/>
<text x="469" y="84.9" font-size="8">a0: Cephalotrichum</text>
<rect x="449.45" y="90.05" width="14.4" height="4.8" fill="#0000ff" stroke="#111" stroke-width="0.9"/>
<text x="469" y="95.05" font-size="8">a1: Kernia</text>
<rect x="449.45" y="100.2" width="14.4" height="4.8" fill="#ff0000" stroke="#111" stroke-width="0.9"/>
<text x="469" y="105.2" font-size="8">a2: Microascaceae</text>
<rect x="449.45" y="110.35" width="14.4" height="4.8" fill="#ff0000" stroke="#111" stroke-width="0.9"/>
<text x="469" y="115.35" font-size="8">a3: Microascales</text>
<rect x="449.45" y="120.5" width="14.4" height="4.8" fill="#ff0000" stroke="#111" stroke-width="0.9"/>
<text x="469" y="125.5" font-size="8">a4: Sordariomycetes</text>
<rect x="449.45" y="130.65" width="14.4" height="4.8" fill="#008000" stroke="#111" stroke-width="0.9"/>
<text x="469" y="135.65" font-size="8">a5: Conocybe</text>
<rect x="449.45" y="140.8" width="14.4" height="4.8" fill="#008000" stroke="#111" stroke-width="0.9"/>
<text x="469" y="145.8" font-size="8">a6: Lycoperdon</text>
<rect x="449.45" y="150.95" width="14.4" height="4.8" fill="#008000" stroke="#111" stroke-width="0.9"/>
<text x="469" y="155.95" font-size="8">a7: Powellomycetaceae</text>
<rect x="449.45" y="161.1" width="14.4" height="4.8" fill="#008000" stroke="#111" stroke-width="0.9"/>
<text x="469" y="166.1" font-size="8">a8: Spizellomycetales</text>
<rect x="449.45" y="171.25" width="14.4" height="4.8" fill="#008000" stroke="#111" stroke-width="0.9"/>
<text x="469" y="176.25" font-size="8">a9: Spizellomycetes</text>
<rect x="449.45" y="181.4" width="14.4" height="4.8" fill="#ff0000" stroke="#111" stroke-width="0.9"/>
<text x="469" y="186.4" font-size="8">b0: Amaranthus</text>
<rect x="449.45" y="191.55" width="14.4" height="4.8" fill="#008000" stroke="#111" stroke-width="0.9"/>
<text x="469" y="196.55" font-size="8">b1: Eucommia</text>
<rect x="449.45" y="201.7" width="14.4" height="4.8" fill="#008000" stroke="#111" stroke-width="0.9"/>
<text x="469" y="206.7" font-size="8">b2: Eucommiaceae</text>
<rect x="449.45" y="211.85" width="14.4" height="4.8" fill="#008000" stroke="#111" stroke-width="0.9"/>
<text x="469" y="216.85" font-size="8">b3: Garryales</text>
<rect x="449.45" y="222" width="14.4" height="4.8" fill="#0000ff" stroke="#111" stroke-width="0.9"/>
<text x="469" y="227" font-size="8">b4: Didymodon</text>
<rect x="449.45" y="232.15" width="14.4" height="4.8" fill="#008000" stroke="#111" stroke-width="0.9"/>
<text x="469" y="237.15" font-size="8">b5: Tortula</text>
<rect x="449.45" y="242.3" width="14.4" height="4.8" fill="#008000" stroke="#111" stroke-width="0.9"/>
<text x="469" y="247.3" font-size="8">b6: Chlorophyceae</text>
</g>
<g id="lda" stroke="#1a1a1a" stroke-width="0.1">
<line x1="459.7" y1="367.5" x2="459.7" y2="889" stroke="#000" stroke-opacity="0.55" stroke-width="0.7" stroke-dasharray="1 2.3"/>
<line x1="400.1" y1="367.5" x2="400.1" y2="889" stroke="#000" stroke-opacity="0.55" stroke-width="0.7" stroke-dasharray="1 2.3"/>
<line x1="340.5" y1="367.5" x2="340.5" y2="889" stroke="#000" stroke-opacity="0.55" stroke-width="0.7" stroke-dasharray="1 2.3"/>
<line x1="280.9" y1="367.5" x2="280.9" y2="889" stroke="#000" stroke-opacity="0.55" stroke-width="0.7" stroke-dasharray="1 2.3"/>
<line x1="221.3" y1="367.5" x2="221.3" y2="889" stroke="#000" stroke-opacity="0.55" stroke-width="0.7" stroke-dasharray="1 2.3"/>
<rect x="161.3" y="378.3" width="277.1" height="2.39" fill="#b4b0a0"/>
<rect x="161.3" y="389.59" width="277.1" height="2.39" fill="#b4b0a0"/>
<rect x="161.3" y="400.89" width="222.6" height="2.39" fill="#b4b0a0"/>
<rect x="161.3" y="412.18" width="207.5" height="2.39" fill="#b4b0a0"/>
<rect x="161.3" y="423.47" width="207.5" height="2.39" fill="#b4b0a0"/>
<rect x="161.3" y="434.76" width="207.5" height="2.39" fill="#b4b0a0"/>
<rect x="161.3" y="446.06" width="206.4" height="2.39" fill="#b4b0a0"/>
<rect x="161.3" y="457.35" width="205.1" height="2.39" fill="#b4b0a0"/>
<rect x="161.3" y="468.64" width="194.4" height="2.39" fill="#b4b0a0"/>
<rect x="161.3" y="479.94" width="187.7" height="2.39" fill="#b4b0a0"/>
<rect x="161.3" y="491.23" width="179.8" height="2.39" fill="#b4b0a0"/>
<rect x="161.3" y="502.52" width="179.8" height="2.39" fill="#b4b0a0"/>
<rect x="161.3" y="513.82" width="235.5" height="2.39" fill="#b4b0a0"/>
<rect x="161.3" y="525.11" width="231.8" height="2.39" fill="#b4b0a0"/>
<rect x="161.3" y="536.4" width="229.6" height="2.39" fill="#b4b0a0"/>
<rect x="161.3" y="547.7" width="228.5" height="2.39" fill="#b4b0a0"/>
<rect x="161.3" y="558.99" width="228.3" height="2.39" fill="#b4b0a0"/>
<rect x="161.3" y="570.28" width="220.6" height="2.39" fill="#b4b0a0"/>
<rect x="161.3" y="581.57" width="209.5" height="2.39" fill="#b4b0a0"/>
<rect x="161.3" y="592.87" width="204.9" height="2.39" fill="#b4b0a0"/>
<rect x="161.3" y="604.16" width="204.9" height="2.39" fill="#b4b0a0"/>
<rect x="161.3" y="615.45" width="204.5" height="2.39" fill="#b4b0a0"/>
<rect x="161.3" y="626.75" width="198.2" height="2.39" fill="#b4b0a0"/>
<rect x="161.3" y="638.04" width="198.2" height="2.39" fill="#b4b0a0"/>
<rect x="161.3" y="649.33" width="198.2" height="2.39" fill="#b4b0a0"/>
<rect x="161.3" y="660.62" width="189.6" height="2.39" fill="#b4b0a0"/>
<rect x="161.3" y="671.92" width="187.7" height="2.39" fill="#b4b0a0"/>
<rect x="161.3" y="683.21" width="187.7" height="2.39" fill="#b4b0a0"/>
<rect x="161.3" y="694.5" width="187.7" height="2.39" fill="#b4b0a0"/>
<rect x="161.3" y="705.8" width="185.3" height="2.39" fill="#b4b0a0"/>
<rect x="161.3" y="717.09" width="183.3" height="2.39" fill="#b4b0a0"/>
<rect x="161.3" y="728.38" width="180.5" height="2.39" fill="#b4b0a0"/>
<rect x="161.3" y="739.68" width="180.5" height="2.39" fill="#b4b0a0"/>
<rect x="161.3" y="750.97" width="280.4" height="2.39" fill="#b4b0a0"/>
<rect x="161.3" y="762.26" width="280.4" height="2.39" fill="#b4b0a0"/>
<rect x="161.3" y="773.56" width="249" height="2.39" fill="#b4b0a0"/>
<rect x="161.3" y="784.85" width="238.5" height="2.39" fill="#b4b0a0"/>
<rect x="161.3" y="796.14" width="238.5" height="2.39" fill="#b4b0a0"/>
<rect x="161.3" y="807.43" width="226.7" height="2.39" fill="#b4b0a0"/>
<rect x="161.3" y="818.73" width="203.4" height="2.39" fill="#b4b0a0"/>
<rect x="161.3" y="830.02" width="203.4" height="2.39" fill="#b4b0a0"/>
<rect x="161.3" y="841.31" width="193.1" height="2.39" fill="#b4b0a0"/>
<rect x="161.3" y="852.61" width="184.2" height="2.39" fill="#b4b0a0"/>
<rect x="161.3" y="863.9" width="184" height="2.39" fill="#b4b0a0"/>
<rect x="161.3" y="875.19" width="182.2" height="2.39" fill="#b4b0a0"/>
<rect x="161.75" y="369.55" width="277.3" height="8.6" fill="#0000ff" stroke="#101010" stroke-width="0.9"/>
<text x="154.6" y="377.75" text-anchor="end" font-size="8.05">Bionectriaceae</text>
<rect x="161.75" y="380.84" width="276.2" height="8.6" fill="#0000ff" stroke="#101010" stroke-width="0.9"/>
<text x="154.6" y="389.04" text-anchor="end" font-size="8.05">Hypocreales</text>
<rect x="161.75" y="392.14" width="276.2" height="8.6" fill="#0000ff" stroke="#101010" stroke-width="0.9"/>
<text x="154.6" y="400.34" text-anchor="end" font-size="8.05">Nectriopsis</text>
<rect x="161.75" y="403.43" width="221.7" height="8.6" fill="#0000ff" stroke="#101010" stroke-width="0.9"/>
<text x="154.6" y="411.63" text-anchor="end" font-size="8.05">Kernia</text>
<rect x="161.75" y="414.72" width="206.6" height="8.6" fill="#0000ff" stroke="#101010" stroke-width="0.9"/>
<text x="154.6" y="422.92" text-anchor="end" font-size="8.05">Fusarium</text>
<rect x="161.75" y="426.01" width="206.6" height="8.6" fill="#0000ff" stroke="#101010" stroke-width="0.9"/>
<text x="154.6" y="434.21" text-anchor="end" font-size="8.05">Clavicipitaceae</text>
<rect x="161.75" y="437.31" width="206.6" height="8.6" fill="#0000ff" stroke="#101010" stroke-width="0.9"/>
<text x="154.6" y="445.51" text-anchor="end" font-size="8.05">Metarhizium</text>
<rect x="161.75" y="448.6" width="205.5" height="8.6" fill="#0000ff" stroke="#101010" stroke-width="0.9"/>
<text x="154.6" y="456.8" text-anchor="end" font-size="8.05">Clonostachys</text>
<rect x="161.75" y="459.89" width="204.2" height="8.6" fill="#0000ff" stroke="#101010" stroke-width="0.9"/>
<text x="154.6" y="468.09" text-anchor="end" font-size="8.05">Hypocreaceae</text>
<rect x="161.75" y="471.19" width="193.5" height="8.6" fill="#0000ff" stroke="#101010" stroke-width="0.9"/>
<text x="154.6" y="479.39" text-anchor="end" font-size="8.05">Didymodon</text>
<rect x="161.75" y="482.48" width="186.8" height="8.6" fill="#0000ff" stroke="#101010" stroke-width="0.9"/>
<text x="154.6" y="490.68" text-anchor="end" font-size="8.05">Oligohymenophorea</text>
<rect x="161.75" y="493.77" width="178.9" height="8.6" fill="#0000ff" stroke="#101010" stroke-width="0.9"/>
<text x="154.6" y="501.97" text-anchor="end" font-size="8.05">Simplicillium</text>
<rect x="161.75" y="505.07" width="263.4" height="8.6" fill="#008000" stroke="#101010" stroke-width="0.9"/>
<text x="154.6" y="513.27" text-anchor="end" font-size="8.05">Eurotiales</text>
<rect x="161.75" y="516.36" width="234.6" height="8.6" fill="#008000" stroke="#101010" stroke-width="0.9"/>
<text x="154.6" y="524.56" text-anchor="end" font-size="8.05">Chlorophyta</text>
<rect x="161.75" y="527.65" width="230.9" height="8.6" fill="#008000" stroke="#101010" stroke-width="0.9"/>
<text x="154.6" y="535.85" text-anchor="end" font-size="8.05">Viridiplantae</text>
<rect x="161.75" y="538.95" width="228.7" height="8.6" fill="#008000" stroke="#101010" stroke-width="0.9"/>
<text x="154.6" y="547.14" text-anchor="end" font-size="8.05">Gymnoascaceae</text>
<rect x="161.75" y="550.24" width="227.6" height="8.6" fill="#008000" stroke="#101010" stroke-width="0.9"/>
<text x="154.6" y="558.44" text-anchor="end" font-size="8.05">Talaromyces</text>
<rect x="161.75" y="561.53" width="227.4" height="8.6" fill="#008000" stroke="#101010" stroke-width="0.9"/>
<text x="154.6" y="569.73" text-anchor="end" font-size="8.05">Trichocomaceae</text>
<rect x="161.75" y="572.82" width="219.7" height="8.6" fill="#008000" stroke="#101010" stroke-width="0.9"/>
<text x="154.6" y="581.02" text-anchor="end" font-size="8.05">Chlorophyceae</text>
<rect x="161.75" y="584.12" width="208.6" height="8.6" fill="#008000" stroke="#101010" stroke-width="0.9"/>
<text x="154.6" y="592.32" text-anchor="end" font-size="8.05">Eucommiaceae</text>
<rect x="161.75" y="595.41" width="204" height="8.6" fill="#008000" stroke="#101010" stroke-width="0.9"/>
<text x="154.6" y="603.61" text-anchor="end" font-size="8.05">Conocybe</text>
<rect x="161.75" y="606.7" width="204" height="8.6" fill="#008000" stroke="#101010" stroke-width="0.9"/>
<text x="154.6" y="614.9" text-anchor="end" font-size="8.05">Eucommia</text>
<rect x="161.75" y="618" width="203.6" height="8.6" fill="#008000" stroke="#101010" stroke-width="0.9"/>
<text x="154.6" y="626.2" text-anchor="end" font-size="8.05">Garryales</text>
<rect x="161.75" y="629.29" width="197.3" height="8.6" fill="#008000" stroke="#101010" stroke-width="0.9"/>
<text x="154.6" y="637.49" text-anchor="end" font-size="8.05">Chytridiomycota</text>
<rect x="161.75" y="640.58" width="197.3" height="8.6" fill="#008000" stroke="#101010" stroke-width="0.9"/>
<text x="154.6" y="648.78" text-anchor="end" font-size="8.05">Spizellomycetales</text>
<rect x="161.75" y="651.88" width="197.3" height="8.6" fill="#008000" stroke="#101010" stroke-width="0.9"/>
<text x="154.6" y="660.07" text-anchor="end" font-size="8.05">Spizellomycetes</text>
<rect x="161.75" y="663.17" width="188.7" height="8.6" fill="#008000" stroke="#101010" stroke-width="0.9"/>
<text x="154.6" y="671.37" text-anchor="end" font-size="8.05">Tortula</text>
<rect x="161.75" y="674.46" width="186.8" height="8.6" fill="#008000" stroke="#101010" stroke-width="0.9"/>
<text x="154.6" y="682.66" text-anchor="end" font-size="8.05">Ochroconis</text>
<rect x="161.75" y="685.75" width="186.8" height="8.6" fill="#008000" stroke="#101010" stroke-width="0.9"/>
<text x="154.6" y="693.95" text-anchor="end" font-size="8.05">Sympoventuriaceae</text>
<rect x="161.75" y="697.05" width="186.8" height="8.6" fill="#008000" stroke="#101010" stroke-width="0.9"/>
<text x="154.6" y="705.25" text-anchor="end" font-size="8.05">Venturiales</text>
<rect x="161.75" y="708.34" width="184.4" height="8.6" fill="#008000" stroke="#101010" stroke-width="0.9"/>
<text x="154.6" y="716.54" text-anchor="end" font-size="8.05">Arachnomycetaceae</text>
<rect x="161.75" y="719.63" width="182.4" height="8.6" fill="#008000" stroke="#101010" stroke-width="0.9"/>
<text x="154.6" y="727.83" text-anchor="end" font-size="8.05">Powellomycetaceae</text>
<rect x="161.75" y="730.93" width="179.6" height="8.6" fill="#008000" stroke="#101010" stroke-width="0.9"/>
<text x="154.6" y="739.13" text-anchor="end" font-size="8.05">Lycoperdon</text>
<rect x="161.75" y="742.22" width="281.5" height="8.6" fill="#ff0000" stroke="#101010" stroke-width="0.9"/>
<text x="154.6" y="750.42" text-anchor="end" font-size="8.05">Sordariomycetes</text>
<rect x="161.75" y="753.51" width="279.5" height="8.6" fill="#ff0000" stroke="#101010" stroke-width="0.9"/>
<text x="154.6" y="761.71" text-anchor="end" font-size="8.05">Microascales</text>
<rect x="161.75" y="764.81" width="279.5" height="8.6" fill="#ff0000" stroke="#101010" stroke-width="0.9"/>
<text x="154.6" y="773" text-anchor="end" font-size="8.05">Microascaceae</text>
<rect x="161.75" y="776.1" width="248.1" height="8.6" fill="#ff0000" stroke="#101010" stroke-width="0.9"/>
<text x="154.6" y="784.3" text-anchor="end" font-size="8.05">Cephalotrichum</text>
<rect x="161.75" y="787.39" width="237.6" height="8.6" fill="#ff0000" stroke="#101010" stroke-width="0.9"/>
<text x="154.6" y="795.59" text-anchor="end" font-size="8.05">Coniochaetaceae</text>
<rect x="161.75" y="798.68" width="237.6" height="8.6" fill="#ff0000" stroke="#101010" stroke-width="0.9"/>
<text x="154.6" y="806.88" text-anchor="end" font-size="8.05">Coniochaetales</text>
<rect x="161.75" y="809.98" width="225.8" height="8.6" fill="#ff0000" stroke="#101010" stroke-width="0.9"/>
<text x="154.6" y="818.18" text-anchor="end" font-size="8.05">Penicillium</text>
<rect x="161.75" y="821.27" width="202.5" height="8.6" fill="#ff0000" stroke="#101010" stroke-width="0.9"/>
<text x="154.6" y="829.47" text-anchor="end" font-size="8.05">Cladosporiaceae</text>
<rect x="161.75" y="832.56" width="202.5" height="8.6" fill="#ff0000" stroke="#101010" stroke-width="0.9"/>
<text x="154.6" y="840.76" text-anchor="end" font-size="8.05">Cladosporium</text>
<rect x="161.75" y="843.86" width="192.2" height="8.6" fill="#ff0000" stroke="#101010" stroke-width="0.9"/>
<text x="154.6" y="852.06" text-anchor="end" font-size="8.05">Amaranthus</text>
<rect x="161.75" y="855.15" width="183.3" height="8.6" fill="#ff0000" stroke="#101010" stroke-width="0.9"/>
<text x="154.6" y="863.35" text-anchor="end" font-size="8.05">Herpotrichiellaceae</text>
<rect x="161.75" y="866.44" width="183.1" height="8.6" fill="#ff0000" stroke="#101010" stroke-width="0.9"/>
<text x="154.6" y="874.64" text-anchor="end" font-size="8.05">Exophiala</text>
<rect x="161.75" y="877.74" width="181.3" height="8.6" fill="#ff0000" stroke="#101010" stroke-width="0.9"/>
<text x="154.6" y="885.93" text-anchor="end" font-size="8.05">Chaetothyriales</text>
<line x1="161.7" y1="363" x2="161.7" y2="367.5" stroke="#333" stroke-width="0.7"/>
<line x1="161.7" y1="889.6" x2="161.7" y2="892.6" stroke="#333" stroke-width="0.7"/>
<text x="160.8" y="904.2" text-anchor="middle" font-size="8">0</text>
<line x1="221.3" y1="367.5" x2="221.3" y2="889" stroke="#000" stroke-opacity="0.16" stroke-width="0.7" stroke-dasharray="1 2.3"/>
<line x1="221.3" y1="363" x2="221.3" y2="367.5" stroke="#333" stroke-width="0.7"/>
<line x1="221.3" y1="889.6" x2="221.3" y2="892.6" stroke="#333" stroke-width="0.7"/>
<text x="220.4" y="904.2" text-anchor="middle" font-size="8">1</text>
<line x1="280.9" y1="367.5" x2="280.9" y2="889" stroke="#000" stroke-opacity="0.16" stroke-width="0.7" stroke-dasharray="1 2.3"/>
<line x1="280.9" y1="363" x2="280.9" y2="367.5" stroke="#333" stroke-width="0.7"/>
<line x1="280.9" y1="889.6" x2="280.9" y2="892.6" stroke="#333" stroke-width="0.7"/>
<text x="280" y="904.2" text-anchor="middle" font-size="8">2</text>
<line x1="340.5" y1="367.5" x2="340.5" y2="889" stroke="#000" stroke-opacity="0.16" stroke-width="0.7" stroke-dasharray="1 2.3"/>
<line x1="340.5" y1="363" x2="340.5" y2="367.5" stroke="#333" stroke-width="0.7"/>
<line x1="340.5" y1="889.6" x2="340.5" y2="892.6" stroke="#333" stroke-width="0.7"/>
<text x="339.6" y="904.2" text-anchor="middle" font-size="8">3</text>
<line x1="400.1" y1="367.5" x2="400.1" y2="889" stroke="#000" stroke-opacity="0.16" stroke-width="0.7" stroke-dasharray="1 2.3"/>
<line x1="400.1" y1="363" x2="400.1" y2="367.5" stroke="#333" stroke-width="0.7"/>
<line x1="400.1" y1="889.6" x2="400.1" y2="892.6" stroke="#333" stroke-width="0.7"/>
<text x="399.2" y="904.2" text-anchor="middle" font-size="8">4</text>
<line x1="459.7" y1="367.5" x2="459.7" y2="889" stroke="#000" stroke-opacity="0.16" stroke-width="0.7" stroke-dasharray="1 2.3"/>
<line x1="459.7" y1="363" x2="459.7" y2="367.5" stroke="#333" stroke-width="0.7"/>
<line x1="459.7" y1="889.6" x2="459.7" y2="892.6" stroke="#333" stroke-width="0.7"/>
<text x="458.8" y="904.2" text-anchor="middle" font-size="8">5</text>
<text x="297.2" y="918.2" text-anchor="middle" font-size="8">LDA SCORE (log 10)</text>
<rect x="241.25" y="341.6" width="16.6" height="5.8" fill="#ff0000" stroke="#111" stroke-width="0.9"/>
<text x="264.3" y="347.4" font-size="8">NM</text>
<rect x="291.25" y="341.6" width="16.6" height="5.8" fill="#008000" stroke="#111" stroke-width="0.9"/>
<text x="314.4" y="347.4" font-size="8">HM</text>
<rect x="341.25" y="341.6" width="16.6" height="5.8" fill="#0000ff" stroke="#111" stroke-width="0.9"/>
<text x="364.6" y="347.4" font-size="8">FM</text>
</g>
</svg>
</body>
</html>
